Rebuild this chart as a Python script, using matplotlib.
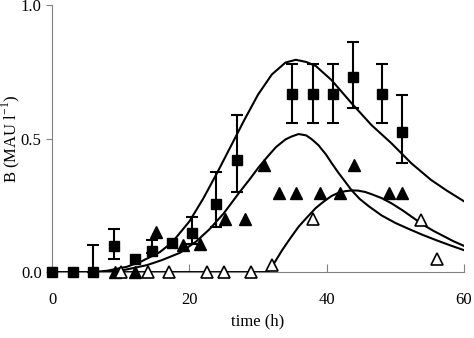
import numpy as np
import matplotlib
matplotlib.use("Agg")
import matplotlib.pyplot as plt

plt.rcParams['font.family'] = ['Liberation Serif', 'DejaVu Serif']

# Measured data: filled squares (error bar ends, same as value where no bar is drawn)
sq_t = [0, 3, 6, 9, 12, 14.5, 17.5, 20.4, 23.9, 27, 34.9, 38, 40.9, 43.8, 48, 50.9]
sq_b = [0, 0, 0, 0.097, 0.05, 0.08, 0.108, 0.146, 0.255, 0.42, 0.667, 0.667, 0.667, 0.73, 0.667, 0.524]
sq_lo = [0, 0, 0, 0.05, 0.05, 0.07, 0.108, 0.105, 0.17, 0.30, 0.56, 0.56, 0.56, 0.615, 0.56, 0.41]
sq_hi = [0, 0, 0.10, 0.16, 0.05, 0.12, 0.108, 0.206, 0.375, 0.59, 0.78, 0.78, 0.78, 0.86, 0.78, 0.663]

# filled triangles
ft_t = [9.1, 12, 15.2, 19, 21.5, 25.2, 28.1, 30.9, 33, 35.5, 39, 42, 43.9, 49, 50.9]
ft_b = [0, 0, 0.15, 0.10, 0.105, 0.2, 0.2, 0.40, 0.297, 0.297, 0.297, 0.297, 0.40, 0.297, 0.297]

# open triangles
ot_t = [10, 14, 17, 22.5, 25, 29, 32, 38, 53.8, 56]
ot_b = [0, 0, 0, 0, 0, 0, 0.025, 0.2, 0.195, 0.05]

# model curves
c1_t = [0, 6, 8, 10.9, 13, 15.7, 17.5, 20, 22, 24, 26, 28, 30, 32, 34, 35.5, 37, 38.4,
        40.7, 43.6, 46.5, 49.4, 52.3, 55.2, 57.5, 60]
c1_b = [0, 0, 0.005, 0.02, 0.04, 0.075, 0.112, 0.19, 0.275, 0.37, 0.47, 0.57, 0.665, 0.74,
        0.785, 0.795, 0.787, 0.772, 0.719, 0.633, 0.551, 0.483, 0.408, 0.345, 0.305, 0.265]

c2_t = [0, 7.4, 10.5, 13.8, 16, 18.6, 21, 22.9, 25, 27.2, 28.7, 30.1, 31.4, 32.6, 34, 34.9,
        35.9, 37, 37.8, 38.8, 39.9, 40.8, 41.7, 42.7, 43.6, 44.8, 46.1, 48, 50,
        52, 54, 56, 58, 60]
c2_b = [0, 0, 0.008, 0.026, 0.045, 0.072, 0.115, 0.16, 0.22, 0.296, 0.345, 0.393, 0.433,
        0.468, 0.497, 0.508, 0.517, 0.512, 0.498, 0.475, 0.44, 0.405, 0.372, 0.338, 0.307,
        0.274, 0.247, 0.212, 0.184, 0.161, 0.139, 0.119, 0.1, 0.082]

c3_t = [0, 31, 31.6, 32.5, 33.5, 34.7, 35.9, 37.2, 38.4, 39.6, 40.7, 41.7, 42.7, 43.7,
        44.6, 45.6, 46.5, 48, 49.4, 51, 52.5, 54, 55.5, 57, 58.5, 60]
c3_b = [0, 0, 0.005, 0.04, 0.082, 0.127, 0.17, 0.207, 0.24, 0.265, 0.285, 0.297, 0.303,
        0.306, 0.305, 0.3, 0.292, 0.277, 0.258, 0.232, 0.205, 0.178, 0.155, 0.135, 0.115,
        0.098]

fig = plt.figure(figsize=(4.74, 3.38), dpi=100)
ax = fig.add_axes([0.110, 0.195, 0.869, 0.79])

for t, b in [(c1_t, c1_b), (c2_t, c2_b), (c3_t, c3_b)]:
    ax.plot(t, b, color='black', lw=1.5, zorder=2, solid_joinstyle='round')

sq_b = np.array(sq_b)
lo = sq_b - np.array(sq_lo)
hi = np.array(sq_hi) - sq_b
has_err = (lo + hi) > 0
ax.errorbar(np.array(sq_t)[has_err], sq_b[has_err], yerr=[lo[has_err], hi[has_err]],
            fmt='none', ecolor='black', capsize=4, elinewidth=1.5, capthick=1.5,
            zorder=3, clip_on=False)
ax.plot(sq_t, sq_b, 's', color='black', ms=7, ls='none', zorder=4, clip_on=False)
ax.plot(ft_t, ft_b, '^', color='black', ms=8, ls='none', zorder=4, clip_on=False)
ax.plot(ot_t, ot_b, '^', mfc='white', mec='black', mew=1.2, ms=8, ls='none',
        zorder=4, clip_on=False)

ax.set_xlim(0, 60)
ax.set_ylim(0, 1.0)
ax.set_xticks([0, 20, 40, 60])
ax.set_yticks([0, 0.5, 1.0])
ax.set_yticklabels(['0.0', '0.5', '1.0'])
for s in ['top', 'right']:
    ax.spines[s].set_visible(False)
for s in ['left', 'bottom']:
    ax.spines[s].set_color('#808080')
ax.tick_params(axis='x', direction='in', length=6, color='#808080', pad=14, labelsize=12)
ax.tick_params(axis='y', direction='out', length=4, color='#808080', labelsize=12)
ax.set_xlabel('time (h)', fontsize=12)
ax.set_ylabel('B (MAU l$^{\\mathregular{-1}}$)', fontsize=12)
ax.yaxis.set_label_coords(-0.072, 0.5)

fig.savefig('out.png', dpi=100)
